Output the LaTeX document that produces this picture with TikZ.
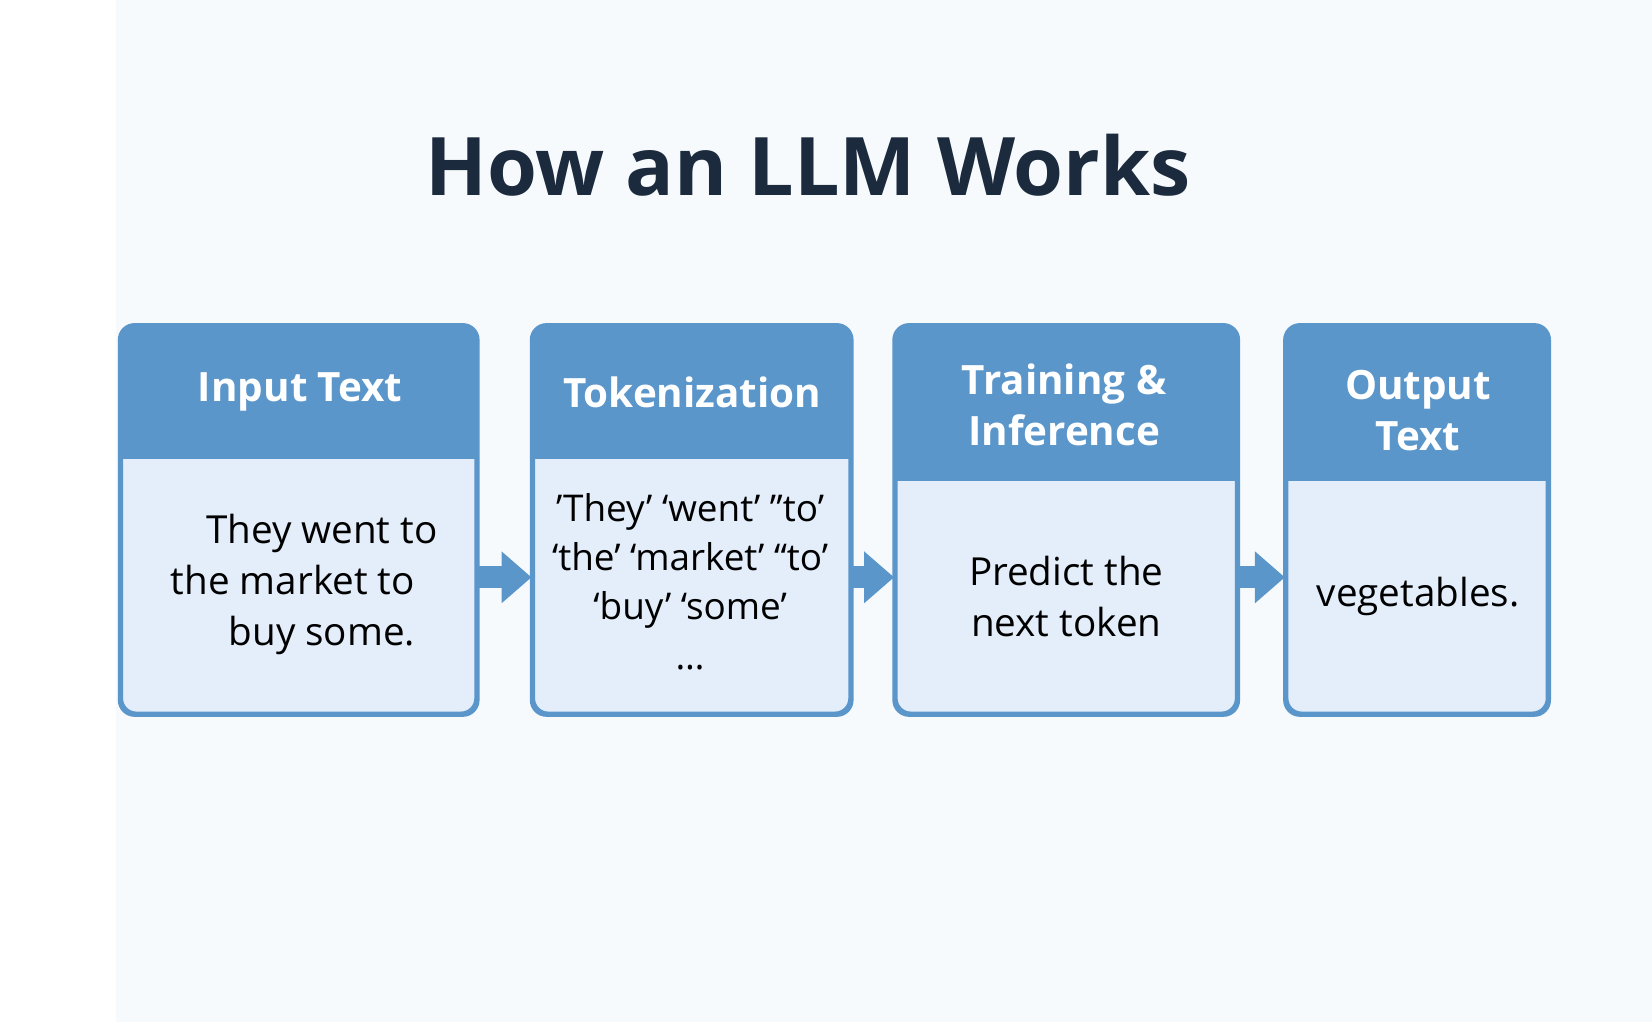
\documentclass[tikz,border=0pt]{standalone}
\usepackage{fontspec}
\setmainfont{Open Sans}
\usetikzlibrary{positioning,arrows.meta}
\definecolor{headblue}{HTML}{5B96CB}
\definecolor{bodyblue}{HTML}{E3EEFA}
\definecolor{titleink}{HTML}{1B2A3D}
\definecolor{backdrop}{HTML}{F7FAFD}
\begin{document}
\begin{tikzpicture}[x=0.01054cm,y=-0.01054cm]
\tikzstyle{box}=[draw=headblue,line width=1pt,fill=bodyblue,rounded corners=0.15cm,minimum height=3.87cm];
\tikzstyle{head}=[font=\bfseries\fontsize{11.5}{14.5}\selectfont,text=white,align=center];
\tikzstyle{body}=[font=\fontsize{11}{14.5}\selectfont,text=black,align=center];
\tikzstyle{flow}=[headblue,line width=0.22cm,-{Triangle[length=0.3cm,width=0.5cm]}];
\useasboundingbox (0,0) rectangle (1568,982);
\fill[white] (0,0) rectangle (1568,982);
\fill[backdrop] (110,0) rectangle (1568,970);
\node[font=\bfseries\fontsize{23}{27}\selectfont,text=titleink] (title) at (767,157) {How an LLM Works};
% boxes
\node[box,minimum width=3.55cm] (b1) at (283.5,493.5) {};
\node[box,minimum width=3.17cm] (b2) at (656.5,493.5) {};
\node[box,minimum width=3.41cm] (b3) at (1012,493.5) {};
\node[box,minimum width=2.61cm] (b4) at (1345,493.5) {};
% headers
\foreach \b/\h in {b1/127,b2/127,b3/148,b4/148}{
  \fill[headblue,rounded corners=0.15cm] (\b.north west) rectangle ([yshift=-\h*0.01054cm]\b.north east);
  \fill[headblue] ([yshift=-0.5cm]\b.north west) rectangle ([yshift=-\h*0.01054cm]\b.north east);
  \draw[headblue,line width=1pt,rounded corners=0.15cm] (\b.north west) rectangle (\b.south east);
}
\node[head] (h1) at (285,372) {Input Text};
\node[head] (h2) at (657,372) {Tokenization};
\node[head] (h3) at (1010,384) {Training \&\\Inference};
\node[head] (h4) at (1346,390) {Output\\Text};
\node[body] (t1) at (278,555) {\hspace*{1.5em}They went to\\the market to\\\hspace*{1.5em}buy some.};
\node[body,font=\fontsize{10.5}{14}\selectfont] (t2) at (655,552) {'They’ ‘went’ "to’\\‘the’ ‘market’ “to’\\‘buy’ ‘some’\\…};
\node[body] (t3) at (1012,566) {Predict the\\next token};
\node[body] (t4) at (1346,566) {vegetables.};
% arrows
\draw[flow] ([yshift=-0.574cm]b1.east) -- ([yshift=-0.574cm]b2.west);
\draw[flow] ([yshift=-0.574cm]b2.east) -- ([yshift=-0.574cm]b3.west);
\draw[flow] ([yshift=-0.574cm]b3.east) -- ([yshift=-0.574cm]b4.west);
\end{tikzpicture}
\end{document}
